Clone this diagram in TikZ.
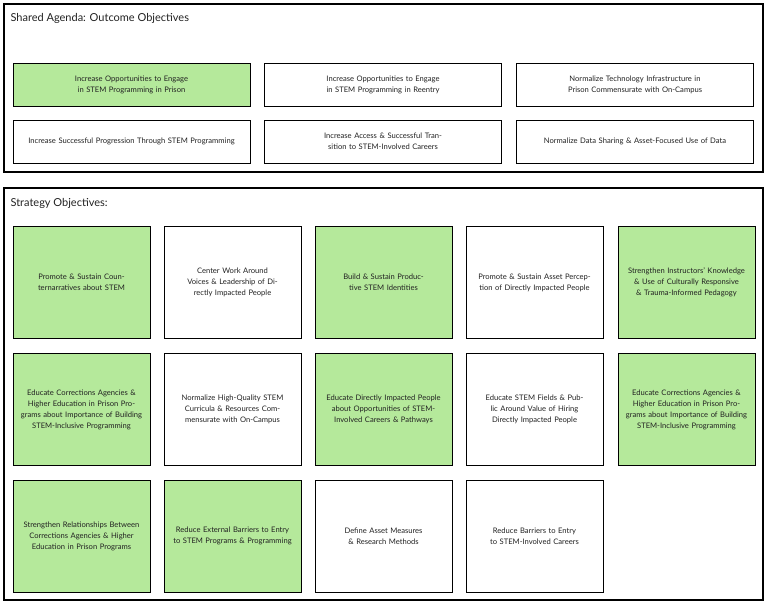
\documentclass[tikz,border=0pt]{standalone}
\usepackage{fontspec}
\setmainfont{Lato}
\usetikzlibrary{positioning}
\definecolor{GoalGreen}{HTML}{B5E99B}
\definecolor{TextDark}{HTML}{222222}
\begin{document}
\begin{tikzpicture}[x=1pt, y=-1pt,
    frame/.style={draw=black, line width=1.2pt},
    title/.style={anchor=west, font=\fontsize{11}{13}\selectfont, text=TextDark},
    goal/.style={draw=black, line width=0.5pt, fill=#1, minimum width=237pt,
      minimum height=43pt, text width=215pt, align=center,
      font=\fontsize{7.6}{11}\selectfont, text=TextDark},
    strat/.style={draw=black, line width=0.5pt, fill=#1, minimum width=137pt,
      minimum height=112pt, text width=122pt, align=center,
      font=\fontsize{7.6}{11}\selectfont, text=TextDark}
  ]
    \useasboundingbox (0,0) rectangle (768,605);

    % Shared agenda
    \draw[frame] (4,4) rectangle (763,172);
    \node[title] (agenda) at (7,18) {Shared Agenda: Outcome Objectives};

    \node[goal=GoalGreen] (g1) at (131.5,84.5) {Increase Opportunities to Engage in STEM Programming in Prison};
    \node[goal=white] (g2) at (383,84.5) {Increase Opportunities to Engage in STEM Programming in Reentry};
    \node[goal=white] (g3) at (635,84.5) {Normalize Technology Infrastructure in Prison Commensurate with On-Campus};
    \node[goal=white] (g4) at (131.5,141.5) {Increase Successful Progression Through STEM Programming};
    \node[goal=white] (g5) at (383,141.5) {Increase Access \& Successful Transition to STEM-Involved Careers};
    \node[goal=white] (g6) at (635,141.5) {Normalize Data Sharing \& Asset-Focused Use of Data};

    % Strategy objectives
    \draw[frame] (4,188) rectangle (763,600);
    \node[title] (strategy) at (7,203) {Strategy Objectives:};

    \node[strat=GoalGreen] (s1) at (81.5,282.5) {Promote \& Sustain Counternarratives about STEM};
    \node[strat=white] (s2) at (232.5,282.5) {Center Work Around Voices \& Leadership of Directly Impacted People};
    \node[strat=GoalGreen] (s3) at (383.5,282.5) {Build \& Sustain Productive STEM Identities};
    \node[strat=white] (s4) at (534.5,282.5) {Promote \& Sustain Asset Perception of Directly Impacted People};
    \node[strat=GoalGreen] (s5) at (686.5,282.5) {Strengthen Instructors' Knowledge \& Use of Culturally Responsive \& Trauma-Informed Pedagogy};

    \node[strat=GoalGreen] (s6) at (81.5,409.5) {Educate Corrections Agencies \& Higher Education in Prison Programs about Importance of Building STEM-Inclusive Programming};
    \node[strat=white] (s7) at (232.5,409.5) {Normalize High-Quality STEM Curricula \& Resources Commensurate with On-Campus};
    \node[strat=GoalGreen] (s8) at (383.5,409.5) {Educate Directly Impacted People about Opportunities of STEM-Involved Careers \& Pathways};
    \node[strat=white] (s9) at (534.5,409.5) {Educate STEM Fields \& Public Around Value of Hiring Directly Impacted People};
    \node[strat=GoalGreen] (s10) at (686.5,409.5) {Educate Corrections Agencies \& Higher Education in Prison Programs about Importance of Building STEM-Inclusive Programming};

    \node[strat=GoalGreen] (s11) at (81.5,536) {Strengthen Relationships Between Corrections Agencies \& Higher Education in Prison Programs};
    \node[strat=GoalGreen] (s12) at (232.5,536) {Reduce External Barriers to Entry to STEM Programs \& Programming};
    \node[strat=white] (s13) at (383.5,536) {Define Asset Measures \& Research Methods};
    \node[strat=white] (s14) at (534.5,536) {Reduce Barriers to Entry to STEM-Involved Careers};
\end{tikzpicture}
\end{document}
